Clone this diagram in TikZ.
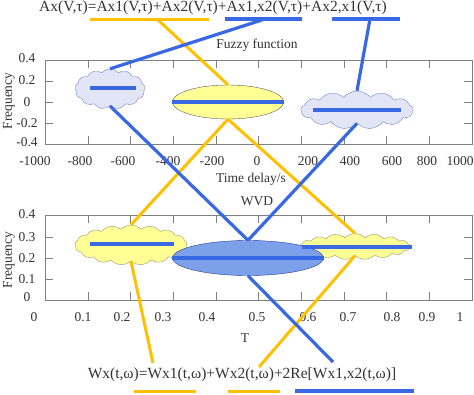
\documentclass[tikz,border=0pt]{standalone}
\usepackage{fontspec}
\setmainfont{Liberation Serif}
\usetikzlibrary{shapes.symbols,shapes.geometric}

\definecolor{amarelo}{RGB}{255,192,0}
\definecolor{azul}{RGB}{56,104,228}
\definecolor{lilas}{RGB}{226,229,245}
\definecolor{bordalilas}{RGB}{120,135,200}
\definecolor{creme}{RGB}{255,255,150}
\definecolor{bordacreme}{RGB}{150,150,120}
\definecolor{azulclaro}{RGB}{125,160,235}
\definecolor{eixo}{RGB}{128,128,128}

\tikzset{
  linhaA/.style={amarelo, line width=3pt},
  linhaB/.style={azul, line width=3.2pt},
  nuvemB/.style={cloud, cloud puffs=13, cloud puff arc=100, cloud ignores aspect, draw=bordalilas, fill=lilas, inner sep=0pt},
  nuvemA/.style={cloud, cloud puffs=17, cloud puff arc=90, cloud ignores aspect, draw=bordacreme, fill=creme, inner sep=0pt},
  elipseA/.style={ellipse, draw=black!65, fill=creme, inner sep=0pt},
  elipseB/.style={ellipse, draw=black!40!azul, fill=azulclaro, inner sep=0pt},
  rotulo/.style={text=black!80, font=\fontsize{13.5}{16}\selectfont, inner sep=0pt},
  titulo/.style={text=black!80, font=\fontsize{15.5}{18}\selectfont, inner sep=0pt}
}

\begin{document}
\begin{tikzpicture}[x=1pt, y=-1pt] %Escala em pontos, y para baixo
\useasboundingbox (0,0) rectangle (474,394);
	%Gráfico superior
\draw[eixo, thin] (45,60) rectangle (472,144); %Moldura
\foreach \i in {1,...,9}{
  \draw[eixo, thin] (45+42.7*\i,60) -- ++(0,8);
  \draw[eixo, thin] (45+42.7*\i,144) -- ++(0,-8);
}
\foreach \y in {81,102,123}{
  \draw[eixo, thin] (45,\y) -- ++(8,0);
  \draw[eixo, thin] (472,\y) -- ++(-8,0);
}
\foreach \x/\t [count=\k] in {35/-1000,80/-800,123/-600,168/-400,212/-200,257/0,308/200,350/400,392/600,427/800,460/1000}
  \node[rotulo] (xs\k) at (\x,161) {\t};
\foreach \y/\t [count=\k] in {58/0.4,80/0.2,102/0,123/-0.2,142/-0.4}
  \node[rotulo] (ys\k) at (27,\y) {\t};
	%Gráfico inferior
\draw[eixo, thin] (45,215) rectangle (472,300); %Moldura
\foreach \i in {1,...,9}{
  \draw[eixo, thin] (45+42.7*\i,215) -- ++(0,8);
  \draw[eixo, thin] (45+42.7*\i,300) -- ++(0,-8);
}
\foreach \y in {237,258,279}{
  \draw[eixo, thin] (45,\y) -- ++(8,0);
  \draw[eixo, thin] (472,\y) -- ++(-8,0);
}
\foreach \x/\t [count=\k] in {34/0,83/0.1,122/0.2,163/0.3,207/0.4,257/0.5,308/0.6,348/0.7,392/0.8,427/0.9,460/1}
  \node[rotulo] (xi\k) at (\x,317) {\t};
\foreach \y/\t [count=\k] in {214/0.4,237/0.3,258/0.2,279/0.1,297/0}
  \node[rotulo] (yi\k) at (27,\y) {\t};
	%Textos
\node[titulo] (eqA) at (213,8) {Ax(V,τ)=Ax1(V,τ)+Ax2(V,τ)+Ax1,x2(V,τ)+Ax2,x1(V,τ)};
\node[titulo] (eqB) at (242,375) {Wx(t,ω)=Wx1(t,ω)+Wx2(t,ω)+2Re[Wx1,x2(t,ω)]};
\node[rotulo] (fuzzy) at (257,45) {Fuzzy function};
\node[rotulo] (atraso) at (251,179) {Time delay/s};
\node[rotulo] (wvd) at (257,201) {WVD};
\node[rotulo] (eixoT) at (245,338) {T};
\node[rotulo, rotate=90] (freqA) at (9,101) {Frequency};
\node[rotulo, rotate=90] (freqB) at (9,260) {Frequency};
	%Sublinhados
\draw[linhaA] (90,19) -- (209,19);
\draw[linhaB] (225,19) -- (302,19);
\draw[linhaB] (332,19) -- (400,19);
\draw[linhaA] (134,391) -- (196,391);
\draw[linhaA] (228,391) -- (280,391);
\draw[linhaB] (295,391) -- (414,391);
\coordinate (pA) at (157,19);
\coordinate (pB) at (265,19);
\coordinate (pE) at (370,19);
\coordinate (pC) at (153,363);
\coordinate (pD) at (259,367);
\coordinate (pF) at (333,362);
	%Nuvens e elipses
\node[nuvemB, minimum width=70pt, minimum height=40pt] (nuvemE) at (110,89) {};
\node[nuvemB, minimum width=112pt, minimum height=38pt] (nuvemD) at (357,110) {};
\node[elipseA, minimum width=111pt, minimum height=34pt] (elipA) at (228,102) {};
\node[nuvemA, minimum width=112pt, minimum height=40pt] (nuvemC) at (131,245) {};
\node[nuvemA, minimum width=110pt, minimum height=26pt] (nuvemF) at (355,246.5) {};
\node[elipseB, minimum width=151pt, minimum height=35pt] (elipB) at (248,258) {};
\draw[linhaB] (90,88) -- (136,88);
\draw[linhaB] (313,110) -- (401,110);
\draw[linhaB] (elipA.west) -- (elipA.east);
\draw[linhaB] (90,244) -- (174,244);
\draw[linhaB] (302,247) -- (412,247);
\draw[linhaB] (elipB.west) -- (elipB.east);
	%Ligações
\draw[linhaA] (pA) -- (elipA.north);
\draw[linhaA] (elipA.south) -- (nuvemC.north);
\draw[linhaA] (elipA.south) -- (nuvemF.north);
\draw[linhaA] (nuvemC.south) -- (pC);
\draw[linhaA] (nuvemF.south) -- (pD);
\draw[linhaB] (pB) -- (nuvemE.north);
\draw[linhaB] (pE) -- (nuvemD.north);
\draw[linhaB] (nuvemE.south) -- (elipB.north);
\draw[linhaB] (nuvemD.south) -- (elipB.north);
\draw[linhaB] (elipB.south) -- (pF);
\end{tikzpicture}
\end{document}
